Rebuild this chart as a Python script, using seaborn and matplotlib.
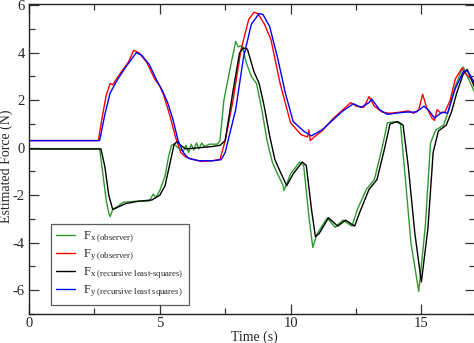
import matplotlib
matplotlib.use("Agg")
import matplotlib.pyplot as plt
from matplotlib.ticker import MultipleLocator
import seaborn as sns

# Fx from the observer
t_fx_obs = [0, 2.7, 2.8, 2.95, 3.05, 3.1, 3.2, 3.35, 3.6, 4.1, 4.6, 4.75, 4.85, 5.0, 5.2,
            5.33, 5.45, 5.55, 5.7, 5.9, 6.0, 6.1, 6.2, 6.3, 6.4, 6.5, 6.6, 6.7, 6.9, 7.2,
            7.3, 7.45, 7.7, 7.9, 8.0, 8.15, 8.3, 8.5, 8.7, 8.9, 9.1, 9.3, 9.5, 9.7, 9.75,
            10.0, 10.35, 10.5, 10.7, 10.85, 11.0, 11.4, 11.7, 12.0, 12.35, 12.55, 12.9,
            13.2, 13.5, 13.7, 14.0, 14.2, 14.4, 14.6, 14.9, 15.15, 15.35, 15.55, 15.85,
            16.05, 16.25, 16.5, 16.6, 16.8, 17.05]
fx_obs = [-0.05, -0.05, -0.9, -2.2, -2.75, -2.9, -2.6, -2.5, -2.3, -2.25, -2.25, -1.95,
          -2.1, -1.8, -1.2, -0.4, 0.1, 0.15, 0.0, -0.15, 0.1, -0.2, 0.15, -0.1, 0.2, -0.05,
          0.2, 0.05, 0.15, 0.15, 0.3, 2.0, 3.4, 4.47, 4.25, 4.3, 3.6, 3.0, 2.7, 1.6, 0.3,
          -0.6, -1.1, -1.55, -1.8, -1.1, -0.6, -0.75, -2.9, -4.2, -3.65, -2.95, -3.35,
          -3.05, -3.3, -2.6, -1.75, -1.35, 0.0, 1.05, 1.1, 1.0, -1.45, -4.0, -6.05, -3.3,
          0.2, 0.75, 0.95, 1.6, 2.45, 3.15, 3.4, 2.9, 2.3]

# Fy from the observer
t_fy_obs = [0, 2.65, 2.8, 2.95, 3.1, 3.2, 3.5, 3.8, 4.0, 4.2, 4.5, 4.8, 5.0, 5.15, 5.4,
            5.6, 5.8, 6.0, 6.3, 6.6, 7.0, 7.3, 7.5, 7.8, 8.1, 8.4, 8.6, 8.75, 9.0, 9.25,
            9.6, 10.0, 10.4, 10.65, 10.7, 10.75, 10.9, 11.2, 11.6, 12.0, 12.3, 12.5, 12.8,
            13.0, 13.2, 13.5, 13.8, 14.2, 14.5, 14.7, 14.9, 15.05, 15.2, 15.4, 15.5, 15.6,
            15.75, 15.9, 16.1, 16.3, 16.55, 16.7, 16.9, 17.05]
fy_obs = [0.3, 0.3, 1.3, 2.2, 2.7, 2.65, 3.15, 3.6, 4.1, 4.0, 3.6, 2.9, 2.6, 2.2, 1.3,
          0.45, -0.2, -0.4, -0.5, -0.58, -0.55, -0.5, 0.3, 2.0, 4.1, 5.4, 5.7, 5.65, 5.2,
          4.55, 2.7, 1.05, 0.55, 0.45, 0.75, 0.3, 0.45, 0.7, 1.2, 1.6, 1.9, 1.75, 1.7,
          2.15, 1.75, 1.5, 1.45, 1.5, 1.55, 1.45, 1.6, 2.25, 1.7, 1.25, 1.15, 1.6, 1.45,
          1.5, 2.0, 2.9, 3.35, 3.1, 2.9, 2.6]

# Fx from recursive least-squares
t_fx_rls = [0, 2.75, 2.9, 3.05, 3.2, 3.4, 3.7, 4.2, 4.7, 5.0, 5.2, 5.4, 5.55, 5.65, 5.8,
            6.0, 6.5, 7.0, 7.3, 7.5, 7.8, 8.05, 8.2, 8.35, 8.6, 8.8, 9.0, 9.2, 9.4, 9.6,
            9.85, 10.1, 10.45, 10.6, 10.8, 10.95, 11.1, 11.45, 11.8, 12.1, 12.45, 12.65,
            13.0, 13.3, 13.6, 13.8, 14.1, 14.3, 14.5, 14.75, 15.0, 15.25, 15.45, 15.65,
            15.95, 16.15, 16.35, 16.6, 16.75, 17.05]
fx_rls = [-0.05, -0.05, -0.8, -2.0, -2.6, -2.5, -2.35, -2.25, -2.2, -2.0, -1.6, -0.6,
          0.15, 0.25, 0.1, -0.05, 0.0, 0.05, 0.1, 0.3, 2.4, 4.0, 4.2, 4.15, 3.2, 2.7, 1.7,
          0.5, -0.5, -1.0, -1.6, -1.1, -0.6, -0.75, -2.6, -3.75, -3.6, -2.95, -3.3, -3.05,
          -3.3, -2.7, -1.75, -1.35, 0.0, 1.0, 1.1, 0.95, -0.8, -3.6, -5.65, -3.4, -0.2,
          0.7, 0.95, 1.5, 2.3, 3.1, 3.3, 2.5]

# Fy from recursive least squares
t_fy_rls = [0, 2.7, 2.9, 3.1, 3.4, 3.7, 4.1, 4.3, 4.6, 4.9, 5.1, 5.3, 5.5, 5.7, 5.9, 6.1,
            6.5, 7.0, 7.35, 7.5, 7.9, 8.2, 8.5, 8.8, 8.95, 9.2, 9.5, 9.8, 10.1, 10.5,
            10.8, 11.2, 11.6, 12.0, 12.4, 12.7, 13.0, 13.1, 13.4, 13.7, 14.0, 14.4, 14.8,
            15.1, 15.3, 15.5, 15.8, 16.0, 16.3, 16.6, 16.75, 17.05]
fy_rls = [0.3, 0.3, 1.4, 2.3, 2.9, 3.4, 4.0, 3.9, 3.5, 2.8, 2.4, 1.9, 1.2, 0.3, -0.2,
          -0.45, -0.55, -0.55, -0.5, -0.2, 1.6, 3.8, 5.2, 5.65, 5.6, 5.1, 3.8, 2.3, 1.1,
          0.7, 0.5, 0.75, 1.15, 1.55, 1.85, 1.7, 1.9, 2.05, 1.6, 1.4, 1.45, 1.5, 1.5,
          1.75, 1.55, 1.25, 1.5, 1.45, 2.5, 3.2, 3.25, 2.7]

labels = [r"$\mathrm{F}_{\mathrm{x\ (observer)}}$",
          r"$\mathrm{F}_{\mathrm{y\ (observer)}}$",
          r"$\mathrm{F}_{\mathrm{x\ (recursive\ least\text{-}squares)}}$",
          r"$\mathrm{F}_{\mathrm{y\ (recursive\ least\ squares)}}$"]
colors = ["#2e9a2e", "#ff0000", "#000000", "#0000ff"]

sns.set_theme(style="ticks")
plt.rcParams["font.family"] = ["Liberation Serif", "DejaVu Serif"]
plt.rcParams["mathtext.fontset"] = "custom"
plt.rcParams["mathtext.rm"] = "Liberation Serif"
plt.rcParams["mathtext.it"] = "Liberation Serif:italic"
plt.rcParams["axes.unicode_minus"] = False

fig = plt.figure(figsize=(4.74, 3.43), dpi=100)
ax = fig.add_axes([29 / 474, 29 / 343, 446 / 474, 310 / 343])

series = [(t_fx_obs, fx_obs), (t_fy_obs, fy_obs), (t_fx_rls, fx_rls), (t_fy_rls, fy_rls)]
for (t, f), lab, c in zip(series, labels, colors):
    sns.lineplot(x=t, y=f, ax=ax, color=c, label=lab, linewidth=1.0,
                 sort=False, estimator=None)

ax.set_xlim(0, 17.05)
ax.set_ylim(-7, 6.05)
ax.xaxis.set_major_locator(MultipleLocator(5))
ax.xaxis.set_minor_locator(MultipleLocator(2.5))
ax.yaxis.set_major_locator(MultipleLocator(2))
ax.yaxis.set_minor_locator(MultipleLocator(1))
ax.tick_params(which="both", direction="in", top=True, right=True,
               labelsize=10.5, color="#333333", width=0.9)
ax.tick_params(axis="x", pad=2)
ax.tick_params(axis="y", pad=3)
ax.tick_params(which="major", length=7)
ax.tick_params(which="minor", length=4)
for s in ax.spines.values():
    s.set_linewidth(1.0)
    s.set_color("#222222")

ax.set_xlabel("Time (s)", fontsize=10)
ax.xaxis.set_label_coords(0.506, -0.054)
ax.set_ylabel("Estimated Force (N)", fontsize=10)
ax.yaxis.set_label_coords(-0.036, 0.477)

leg = ax.legend(loc="lower left", bbox_to_anchor=(0.049, 0.029), fontsize=9,
                frameon=True, fancybox=False, edgecolor="#333333",
                handlelength=1.45, handletextpad=0.65, labelspacing=0.2,
                borderpad=0.45, borderaxespad=0)
leg.get_frame().set_linewidth(0.9)
for line in leg.get_lines():
    line.set_linewidth(1.0)

fig.savefig("out.png", dpi=100)
